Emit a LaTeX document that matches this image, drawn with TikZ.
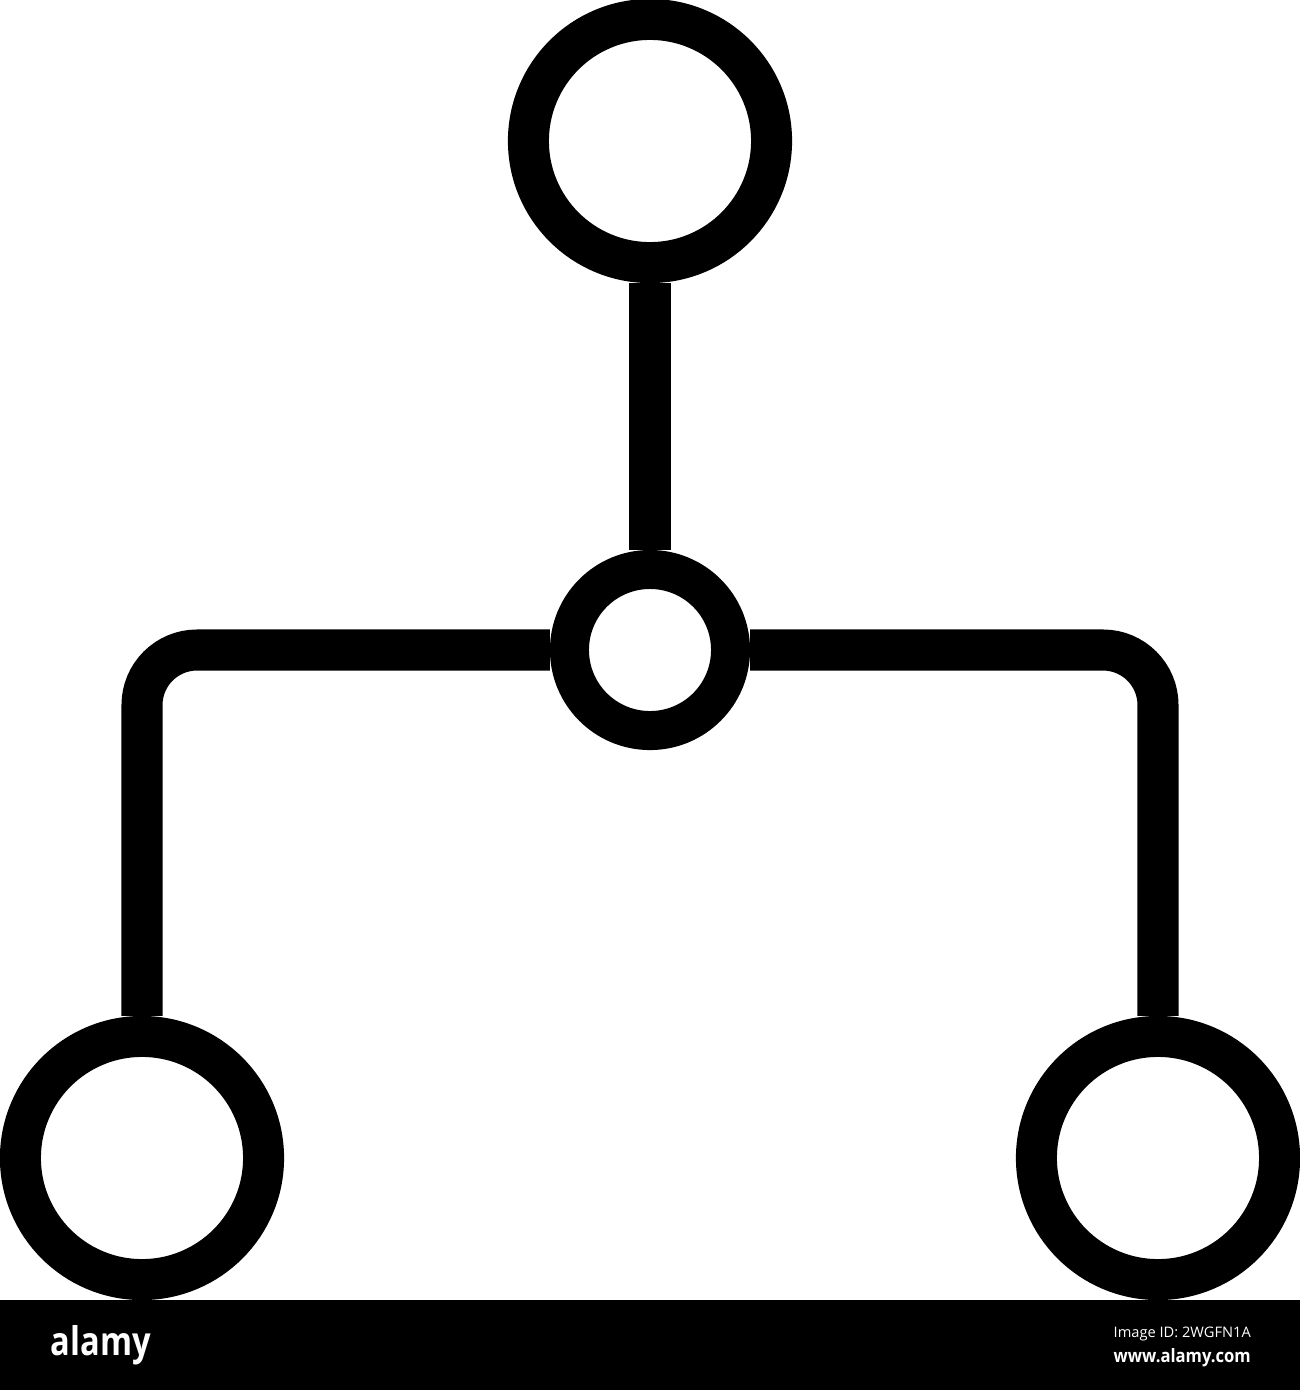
\documentclass[tikz,border=0pt]{standalone}
\usepackage{fontspec}
\setmainfont{Open Sans}
\usepackage{graphicx}
\begin{document}
\begin{tikzpicture}[x=0.01cm,y=-0.01cm,
  bigring/.style={circle,draw=black,line width=0.41cm,minimum size=2.43cm,inner sep=0pt},
  smallring/.style={circle,draw=black,line width=0.39cm,minimum size=1.61cm,inner sep=0pt},
  conn/.style={draw=black,line width=0.41cm},
  bartext/.style={text=white,inner sep=0pt,anchor=base west}]
\useasboundingbox (0,0) rectangle (1300,1390);
\fill[white] (0,0) rectangle (1300,1390);
% nodes
\node[bigring] (top) at (650,141) {};
\node[smallring] (mid) at (650,650) {};
\node[bigring] (bl) at (142,1158) {};
\node[bigring] (br) at (1158,1158) {};
% connectors
\draw[conn] (top.south) -- (mid.north);
\draw[conn,rounded corners=0.55cm] (mid.west) -| (bl.north);
\draw[conn,rounded corners=0.55cm] (mid.east) -| (br.north);
% footer bar
\fill[black] (0,1300) rectangle (1300,1390);
\node[bartext] (logo) at (50,1355) {\resizebox{1.0cm}{0.30cm}{\bfseries alamy}};
\node[bartext] (imgid) at (1113,1337) {\resizebox{1.37cm}{0.105cm}{Image ID: 2WGFN1A}};
\node[bartext] (url) at (1113,1362) {\resizebox{1.37cm}{0.14cm}{\bfseries www.alamy.com}};
\end{tikzpicture}
\end{document}
